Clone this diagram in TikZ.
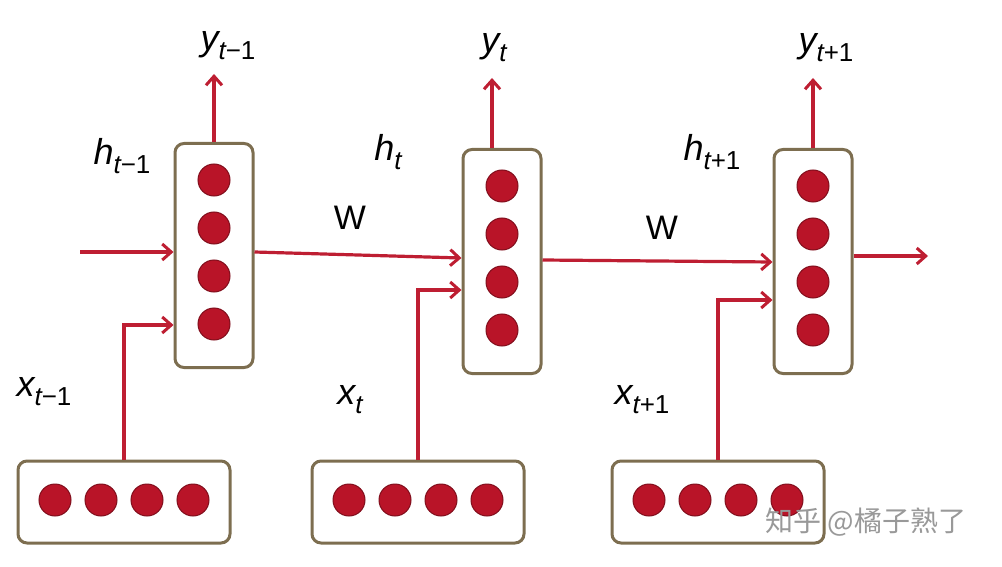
\documentclass[tikz,border=0pt]{standalone}
\usepackage{fontspec}
\setmainfont{Liberation Sans}
\newfontfamily\cjk{Noto Sans CJK SC}
\usetikzlibrary{arrows.meta}
\definecolor{rd}{RGB}{190,30,50}
\definecolor{cd}{RGB}{185,20,40}
\definecolor{bd}{RGB}{125,110,80}
\newcommand{\lsub}[2]{\raisebox{-9pt}{\fontsize{26}{30}\selectfont t\upshape #2}}
\begin{document}
\begin{tikzpicture}[x=1pt,y=-1pt,
 box/.style={draw=bd,line width=3pt,rounded corners=9pt,fill=white},
 dot/.style={circle,fill=cd,draw=cd!70!black,line width=1pt,minimum size=32pt,inner sep=0pt},
 ar/.style={draw=rd,line width=3.2pt,-{Straight Barb[length=9pt,width=16pt,line width=3pt]}},
 lb/.style={font=\fontsize{36}{40}\selectfont\itshape,inner sep=0pt},
 wl/.style={font=\fontsize{34}{38}\selectfont}]
\useasboundingbox (0,0) rectangle (1002,567);
\foreach \n/\x/\y in {1/214/142,2/502/148,3/813/148}{
  \node[box,minimum width=78pt,minimum height=224pt,anchor=north] (v\n) at (\x,\y) {};
  \foreach \k in {0,1,2,3}{\node[dot] (v\n d\k) at (\x,\y+38+48*\k) {};}
}
\foreach \n/\x in {1/124,2/418,3/718}{
  \node[box,minimum width=212pt,minimum height=82pt] (b\n) at (\x,502) {};
  \foreach \k in {0,1,2,3}{\node[dot] (b\n d\k) at (\x-69+46*\k,500) {};}
}
\coordinate (o1) at (214,74); \coordinate (o2) at (492,78); \coordinate (o3) at (813,78);
\draw[ar] (v1.north) -- (o1);
\draw[ar] (v2.north -| o2) -- (o2);
\draw[ar] (v3.north) -- (o3);
\coordinate (in) at (80,252); \coordinate (out) at (928,256);
\draw[ar] (in) -- (v1.west |- in);
\draw[ar] (v1.east |- 0,252) -- (v2.west |- 0,258);
\draw[ar] (v2.east |- 0,260) -- (v3.west |- 0,262);
\draw[ar] (v3.east |- 0,256) -- (out);
\draw[ar] (b1.north) |- (v1.west |- 0,325);
\draw[ar] (b2.north) |- (v2.west |- 0,290);
\draw[ar] (b3.north) |- (v3.west |- 0,300);
\node[lb] (ly1) at (228,46) {y\lsub{t}{−1}};
\node[lb] (ly2) at (494,48) {y\lsub{t}{}};
\node[lb] (ly3) at (826,48) {y\lsub{t}{+1}};
\node[lb] (lh1) at (122,156) {h\lsub{t}{−1}};
\node[lb] (lh2) at (388,152) {h\lsub{t}{}};
\node[lb] (lh3) at (712,152) {h\lsub{t}{+1}};
\node[wl] (w1) at (350,218) {W};
\node[wl] (w2) at (662,228) {W};
\node[lb] (lx1) at (44,392) {x\lsub{t}{−1}};
\node[lb] (lx2) at (350,400) {x\lsub{t}{}};
\node[lb] (lx3) at (642,400) {x\lsub{t}{+1}};
\node[text=gray!80,font=\cjk\fontsize{28}{32}\selectfont] (wm) at (866,522) {知乎 @橘子熟了};
\end{tikzpicture}
\end{document}
